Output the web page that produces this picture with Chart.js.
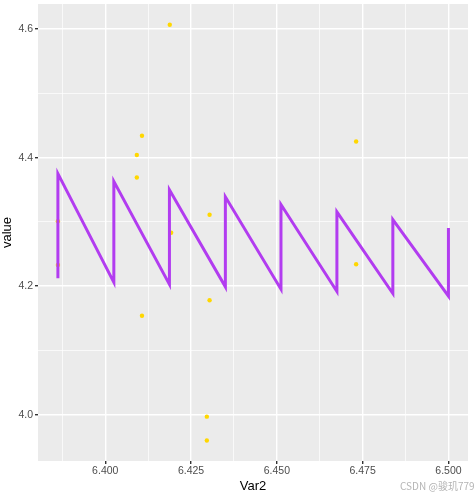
<!DOCTYPE html>
<html>
<head>
<meta charset="utf-8">
<script src="https://cdn.jsdelivr.net/npm/chart.js@4.4.0/dist/chart.umd.min.js"></script>
<style>
    html, body { margin: 0; padding: 0; background: #fff; }
    #wrap { position: relative; width: 474px; height: 494px; }
    #chart { display: block; }
    #mark {
        position: absolute; left: 400px; top: 478px;
        font: 10px "Noto Sans CJK SC", "Liberation Sans", sans-serif;
        color: #b5b5b5; white-space: nowrap;
    }
</style>
</head>
<body>
<div id="wrap">
    <canvas id="chart" width="474" height="494"></canvas>
    <div id="mark">CSDN @骏玑779</div>
</div>
<script>
// Sawtooth line: x of each vertical jump, value at bottom and top of the jump
const sawX = [6.3862, 6.4025, 6.4187, 6.4350, 6.4512, 6.4675, 6.4838, 6.5000];
const sawBottom = [4.2125, 4.2060, 4.2027, 4.1990, 4.1953, 4.1917, 4.1886, 4.1844];
const sawTop = [4.3750, 4.3630, 4.3500, 4.3390, 4.3270, 4.3155, 4.3035, 4.2906];

// Yellow observation points
const pointX = [6.4188, 6.4107, 6.4092, 6.4092, 6.4304, 6.4107, 6.4304, 6.4296, 6.4296, 6.4731, 6.4731, 6.3862, 6.3862, 6.4192];
const pointY = [4.6067, 4.4340, 4.4040, 4.3690, 4.3110, 4.1540, 4.1780, 3.9970, 3.9600, 4.4250, 4.2340, 4.3010, 4.2330, 4.2830];

// Axis ticks (major labelled, minor only as grid)
const xTicks = [6.3875, 6.4, 6.4125, 6.425, 6.4375, 6.45, 6.4625, 6.475, 6.4875, 6.5];
const yTicks = [4.0, 4.1, 4.2, 4.3, 4.4, 4.5, 4.6];

const linePts = [];
sawX.forEach(function(x, i) {
    linePts.push({ x: x, y: sawBottom[i] });
    linePts.push({ x: x, y: sawTop[i] });
});
const scatterPts = pointX.map(function(x, i) { return { x: x, y: pointY[i] }; });

function isMajorX(v) { return Math.abs(v * 40 - Math.round(v * 40)) < 1e-6; }
function isMajorY(v) { return Math.round(v * 10) % 2 === 0; }

// grey panel behind the plot
const panelBg = {
    id: 'panelBg',
    beforeDraw: function(chart) {
        const a = chart.chartArea;
        const c = chart.ctx;
        c.save();
        c.fillStyle = '#ebebeb';
        c.fillRect(a.left, a.top, a.right - a.left, a.bottom - a.top);
        c.restore();
    }
};

new Chart(document.getElementById('chart'), {
    type: 'scatter',
    data: {
        datasets: [{
            data: linePts,
            showLine: true,
            borderColor: '#b23cf0',
            borderWidth: 3,
            pointRadius: 0,
            tension: 0,
            order: 0
        }, {
            data: scatterPts,
            backgroundColor: '#ffd700',
            borderWidth: 0,
            pointRadius: 2.2,
            order: 1
        }]
    },
    options: {
        responsive: false,
        animation: false,
        layout: { padding: { top: 4, right: 6, left: 0, bottom: 0 } },
        plugins: { legend: { display: false }, tooltip: { enabled: false } },
        scales: {
            x: {
                type: 'linear',
                min: 6.3804,
                max: 6.5057,
                afterBuildTicks: function(scale) {
                    scale.ticks = xTicks.map(function(v) { return { value: v }; });
                },
                afterFit: function(scale) {
                    scale.height = 33;
                    scale.paddingLeft = 0;
                    scale.paddingRight = 0;
                },
                border: { display: false },
                grid: {
                    color: '#ffffff',
                    lineWidth: function(ctx) { return isMajorX(ctx.tick.value) ? 1.4 : 0.7; },
                    tickColor: function(ctx) { return isMajorX(ctx.tick.value) ? '#333333' : 'rgba(0,0,0,0)'; },
                    tickLength: 3
                },
                ticks: {
                    autoSkip: false,
                    maxRotation: 0,
                    padding: 1,
                    color: '#4d4d4d',
                    font: { family: 'Liberation Sans', size: 10.5 },
                    callback: function(v) { return isMajorX(v) ? v.toFixed(3) : ''; }
                },
                title: {
                    display: true,
                    text: 'Var2',
                    color: '#000',
                    padding: { top: 0, bottom: 0 },
                    font: { family: 'Liberation Sans', size: 13 }
                }
            },
            y: {
                type: 'linear',
                min: 3.928,
                max: 4.639,
                afterBuildTicks: function(scale) {
                    scale.ticks = yTicks.map(function(v) { return { value: v }; });
                },
                afterFit: function(scale) {
                    scale.width = 38;
                    scale.paddingTop = 0;
                    scale.paddingBottom = 0;
                },
                border: { display: false },
                grid: {
                    color: '#ffffff',
                    lineWidth: function(ctx) { return isMajorY(ctx.tick.value) ? 1.4 : 0.7; },
                    tickColor: function(ctx) { return isMajorY(ctx.tick.value) ? '#333333' : 'rgba(0,0,0,0)'; },
                    tickLength: 3
                },
                ticks: {
                    autoSkip: false,
                    padding: 2,
                    color: '#4d4d4d',
                    font: { family: 'Liberation Sans', size: 10.5 },
                    callback: function(v) { return isMajorY(v) ? v.toFixed(1) : ''; }
                },
                title: {
                    display: true,
                    text: 'value',
                    color: '#000',
                    padding: { top: 0, bottom: 0 },
                    font: { family: 'Liberation Sans', size: 13 }
                }
            }
        }
    },
    plugins: [panelBg]
});
</script>
</body>
</html>
